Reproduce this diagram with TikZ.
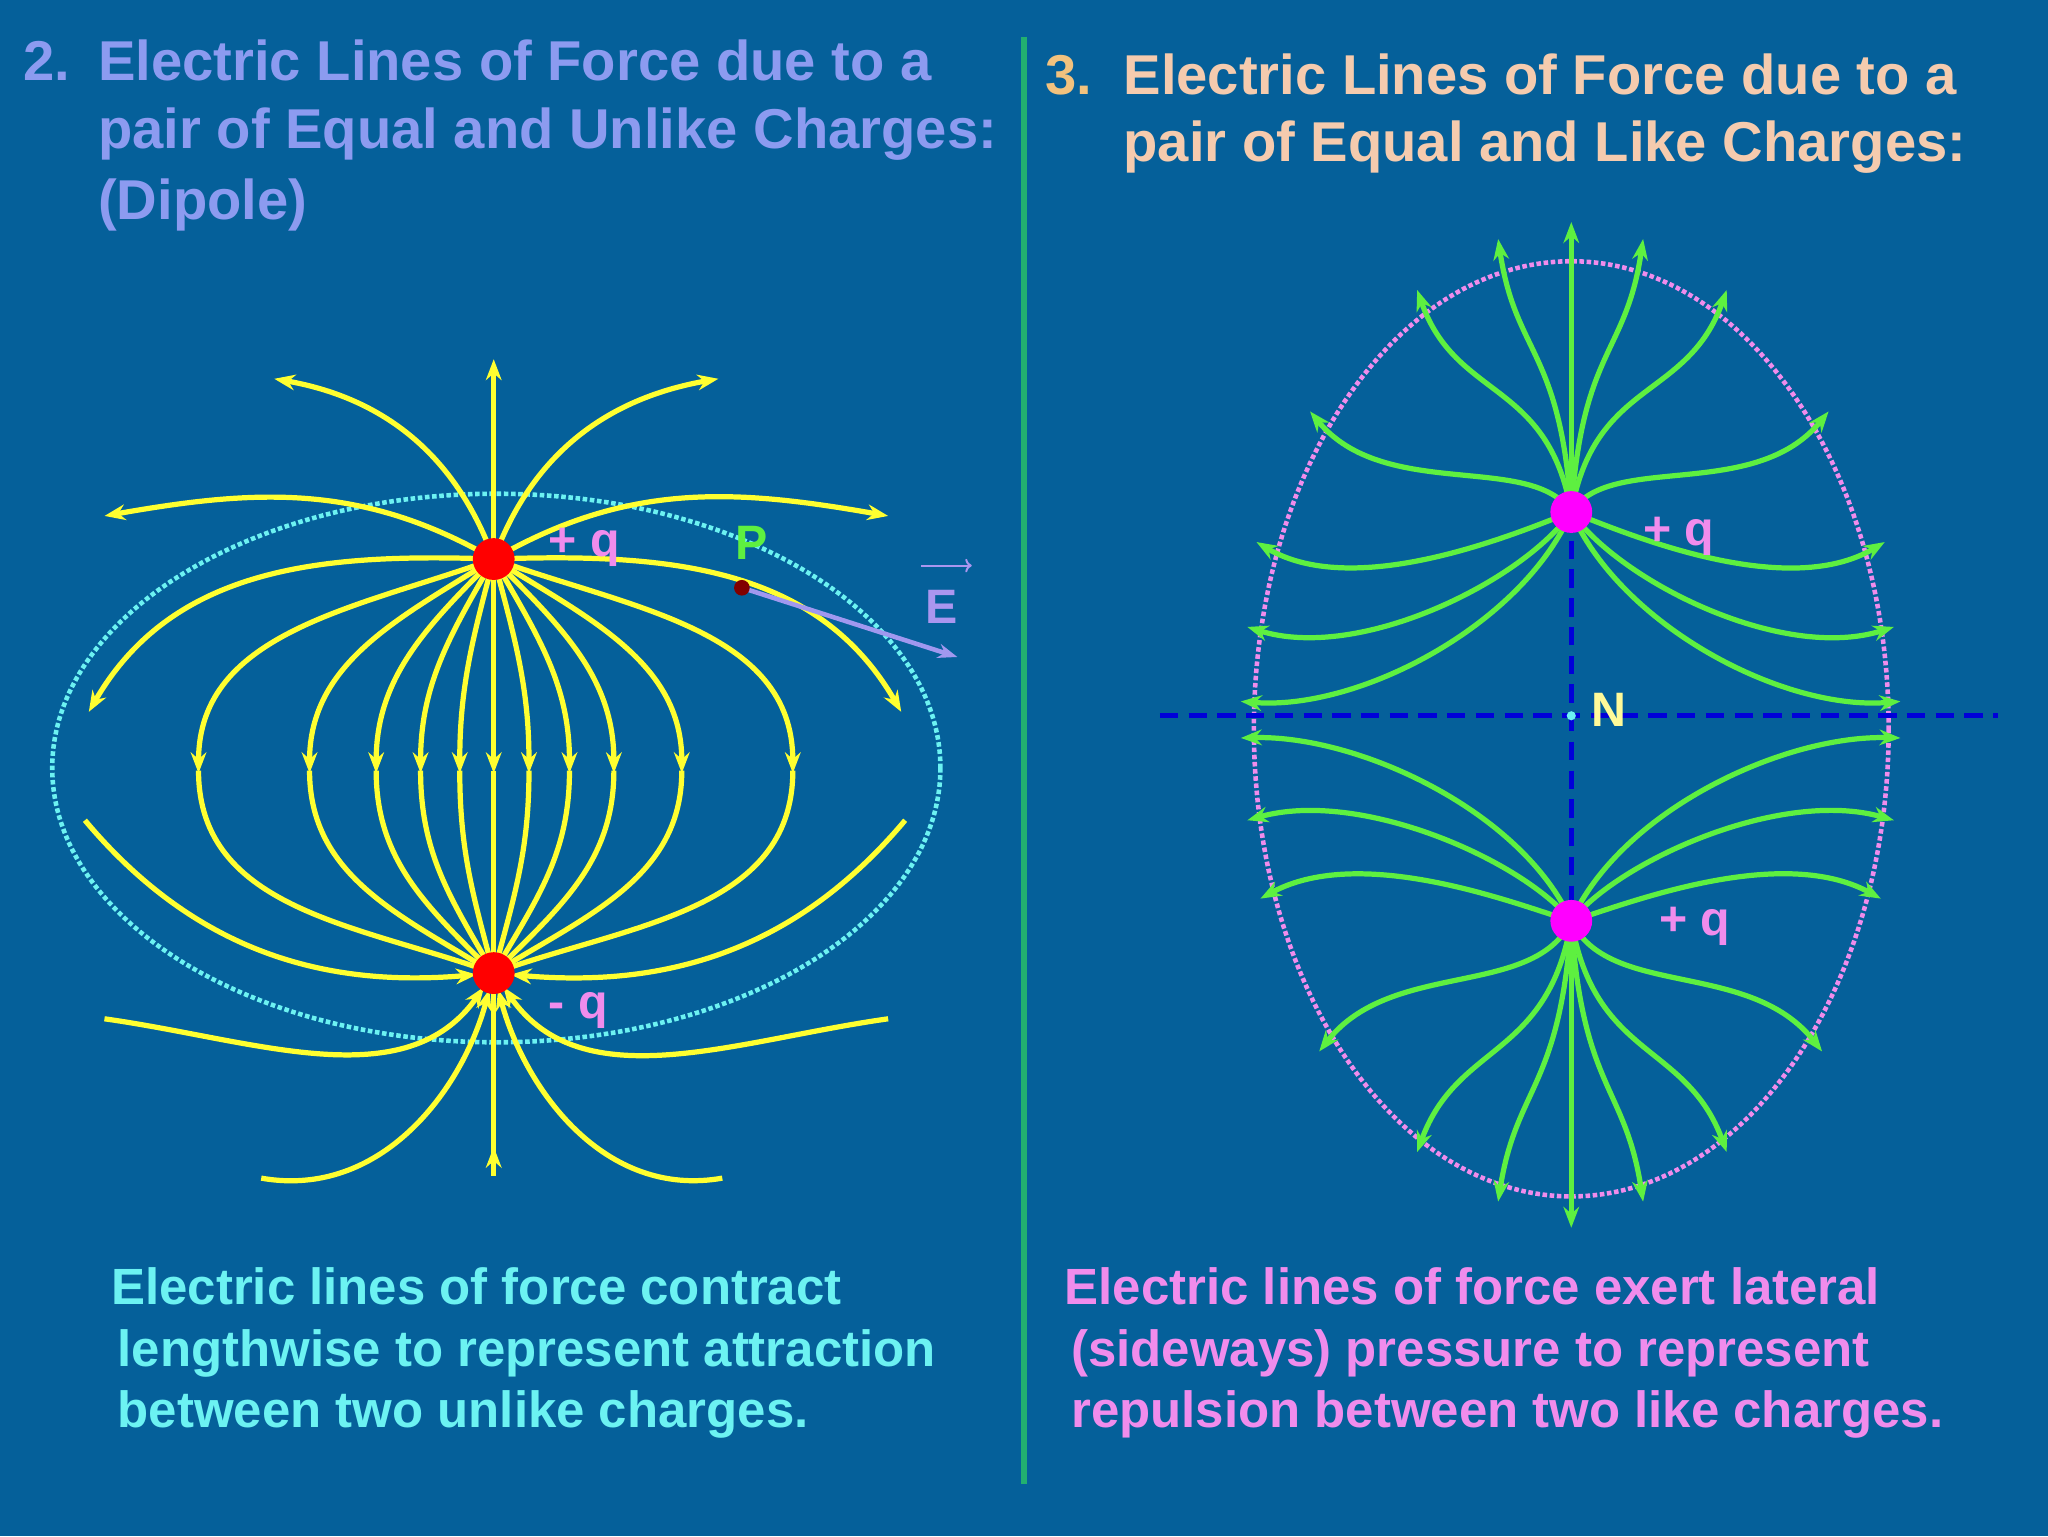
\documentclass[tikz,border=0pt]{standalone}
\usepackage{fontspec}
\setmainfont{Liberation Sans}
\usetikzlibrary{calc,arrows.meta}
\definecolor{bg}{HTML}{05609A}
\definecolor{tl}{HTML}{8C9BF0}
\definecolor{tr}{HTML}{F5CBAE}
\definecolor{tro}{HTML}{F2C27E}
\definecolor{cy}{HTML}{6CF2F2}
\definecolor{pk}{HTML}{F08CEC}
\definecolor{yl}{HTML}{FFFF30}
\definecolor{gr}{HTML}{5EF040}
\definecolor{dv}{HTML}{22B070}
\definecolor{mg}{HTML}{FF00FF}
\definecolor{rd}{HTML}{FF0000}
\tikzset{
 txt/.style={anchor=base west,inner sep=0pt,font=\fontsize{43}{48}\selectfont\bfseries},
 btxt/.style={anchor=base west,inner sep=0pt,font=\fontsize{39}{44}\selectfont\bfseries},
 yline/.style={yl,line width=4pt,-{Stealth[length=16pt,width=12pt]}},
 ylinen/.style={yl,line width=4pt},
 gline/.style={gr,line width=4pt,-{Stealth[length=16pt,width=12pt]}},
 lab/.style={anchor=base west,inner sep=0pt,font=\fontsize{37}{40}\selectfont\bfseries},
}
\begin{document}
\begin{tikzpicture}[x=1pt,y=-1pt]
\fill[bg] (0,0) rectangle (1568,1176);
\useasboundingbox (0,0) rectangle (1568,1176);
\draw[dv,line width=4pt] (784,28) -- (784,1136);
% titles
\node[txt,tl] at (18,62) {2.};
\node[txt,tl] at (75,62) {Electric Lines of Force due to a};
\node[txt,tl] at (75,114) {pair of Equal and Unlike Charges:};
\node[txt,tl] at (75,168) {(Dipole)};
\node[txt,tro] at (800,72) {3.};
\node[txt,tr] at (860,72) {Electric Lines of Force due to a};
\node[txt,tr] at (860,124) {pair of Equal and Like Charges:};
\node[btxt,cy] at (85,999) {Electric lines of force contract};
\node[btxt,cy] at (90,1046) {lengthwise to represent attraction};
\node[btxt,cy] at (90,1093) {between two unlike charges.};
\node[btxt,pk] at (815,999) {Electric lines of force exert lateral};
\node[btxt,pk] at (820,1046) {(sideways) pressure to represent};
\node[btxt,pk] at (820,1093) {repulsion between two like charges.};
% left diagram
\coordinate (Pq) at (378,428);
\coordinate (Mq) at (378,745);
\draw[cy,line width=3.5pt,dotted] (380,588) ellipse [x radius=340,y radius=210];
\foreach \xm/\a in {152/200,237/212,288/225,322/240,352/255,405/285,436/300,470/315,522/328,607/340}{
  \draw[yline] (Pq) to[out=\a,in=90] (\xm,592);
  \draw[ylinen] (\xm,590) to[out=-90,in=-\a] (Mq);
}
\draw[yline] (Pq) -- (378,592);
\draw[ylinen] (378,590) -- (Mq);
\draw[yline] (Pq) -- (378,275);
\draw[yline] (Pq) to[out=110,in=-10] (210,290);
\draw[yline] (Pq) to[out=70,in=190] (550,290);
\draw[yline] (Pq) to[out=150,in=10] (80,395);
\draw[yline] (Pq) to[out=30,in=170] (680,395);
\draw[yline] (Pq) to[out=178,in=60] (68,545);
\draw[yline] (Pq) to[out=2,in=120] (690,545);
\coordinate (bA) at (378,900);
\draw[ylinen] (bA) -- (Mq);
\draw[yline] (bA) -- (378,878);
\begin{scope}[shorten >=13pt]
\draw[yline] (200,902) to[out=-10,in=255] (Mq);
\draw[yline] (553,902) to[out=190,in=285] (Mq);
\draw[yline] (80,780) to[out=-8,in=235] (Mq);
\draw[yline] (680,780) to[out=188,in=305] (Mq);
\draw[yline] (65,628) to[out=-50,in=185] (Mq);
\draw[yline] (693,628) to[out=230,in=355] (Mq);
\end{scope}
\fill[rd] (Pq) circle (16);
\fill[rd] (Mq) circle (16);
\coordinate (P) at (568,450);
\draw[tl!80!pk,line width=3.5pt,-{Stealth[length=15pt,width=11pt]}] (P) -- (733,503);
\fill[red!50!black] (P) circle (6);
\node[lab,gr] at (563,428) {P};
\node[lab,tl!70!pk] at (708,477) {E};
\draw[tl!70!pk,line width=1.5pt,-{To[length=5pt]}] (705,433) -- (744,433);
\node[lab,pk] at (420,426) {+ q};
\node[lab,pk] at (420,780) {- q};
% right diagram
\coordinate (A) at (1203,392);
\coordinate (B) at (1203,705);
\coordinate (O) at (1203,558);
\draw[pk,line width=3.5pt,dotted] (O) ellipse [x radius=243,y radius=358];
\foreach \ex/\ey in {1147/183,1203/170,1258/183,1085/222,1322/222,1003/315,1400/315,962/415,1443/415,955/480,1450/480,950/537,1455/537}{
  \draw[gline] (A) .. controls ($(A)+({0.15*(\ex-1203)},{0.6*(\ey-392)})$) and ($(\ex,\ey)!90pt!(O)$) .. (\ex,\ey);
}
\foreach \ex/\ey in {950/565,1455/565,955/628,1450/628,965/688,1440/688,1010/805,1395/805,1085/882,1322/882,1147/920,1203/940,1258/920}{
  \draw[gline] (B) .. controls ($(B)+({0.15*(\ex-1203)},{0.6*(\ey-705)})$) and ($(\ex,\ey)!90pt!(O)$) .. (\ex,\ey);
}
\draw[blue!85!black,line width=4pt,dash pattern=on 14pt off 8pt] (888,548) -- (1530,548);
\draw[blue!85!black,line width=4pt,dash pattern=on 14pt off 8pt] (A) -- (B);
\fill[cy] (1203,548) circle (3.5);
\node[lab,yellow!40] at (1218,556) {N};
\fill[mg] (A) circle (16);
\fill[mg] (B) circle (16);
\node[lab,pk] at (1258,418) {+ q};
\node[lab,pk] at (1270,716) {+ q};
\end{tikzpicture}
\end{document}
